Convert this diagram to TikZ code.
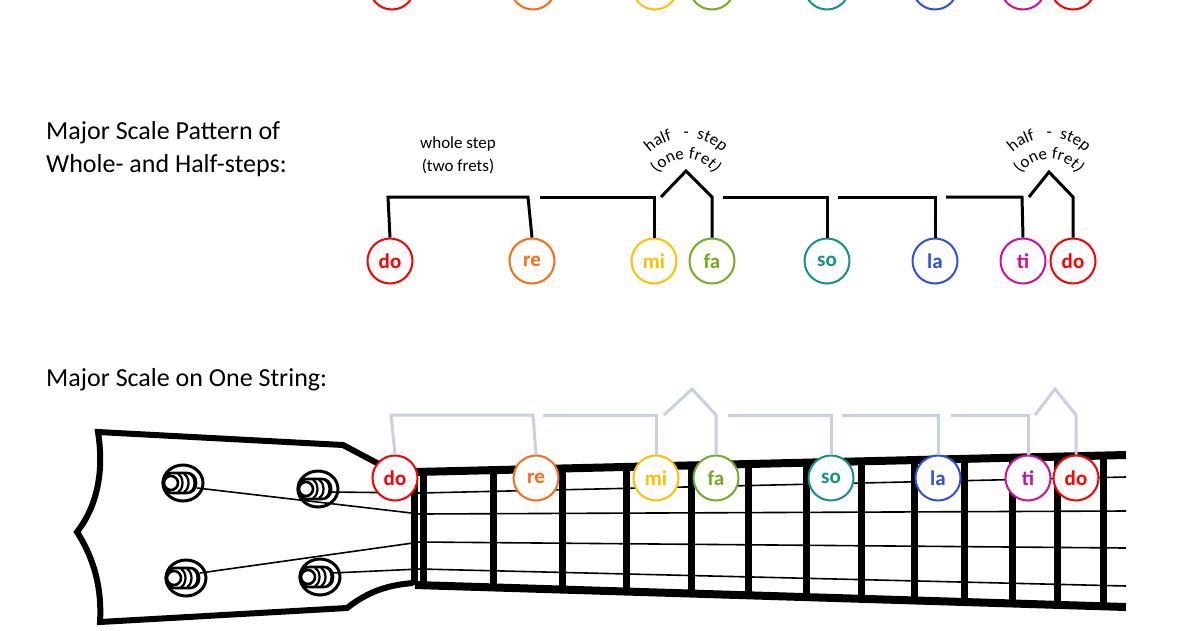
\documentclass[tikz,border=0pt]{standalone}
\usepackage{fontspec}
\setmainfont{Carlito}
\usetikzlibrary{calc,decorations.text,shapes.geometric}
\begin{document}
\begin{tikzpicture}[x=1pt,y=-1pt,
  note/.style={circle,draw=#1,text=#1,fill=white,line width=2pt,minimum size=45pt,inner sep=0pt,font=\fontsize{21}{21}\selectfont\bfseries},
  brk/.style={line width=3pt},
  lbrk/.style={line width=3pt,draw=pale},
  lbl/.style={font=\fontsize{26}{30}\selectfont,anchor=west,inner sep=0pt},
  sm/.style={font=\fontsize{17}{19}\selectfont,inner sep=0pt},
  arct/.style={decorate,decoration={text along path,text align=center,text={|\fontsize{17}{19}\selectfont|#1}}}]
\definecolor{cdo}{HTML}{FF0000}\definecolor{cre}{HTML}{FF6A13}
\definecolor{cmi}{HTML}{FFC000}\definecolor{cfa}{HTML}{70B020}
\definecolor{cso}{HTML}{149090}\definecolor{cla}{HTML}{3050E0}
\definecolor{cti}{HTML}{D0109A}\definecolor{pale}{HTML}{C8D0E8}
\useasboundingbox (0,0) rectangle (1200,630);
% top row (cut off)
\foreach \x/\c [count=\i] in {392/cdo,533/cre,655/cmi,712/cfa,827/cso,935/cla,1023/cti,1073/cdo}
  \node[note=\c] (t\i) at (\x,-13) {};
% middle
\node[lbl] (l1) at (46,133) {Major Scale Pattern of};
\node[lbl] (l2) at (46,166) {Whole- and Half-steps:};
\foreach \x/\c/\n [count=\i] in {390/cdo/do,532/cre/re,654/cmi/mi,712/cfa/fa,827/cso/so,935/cla/la,1023/cti/ti,1073/cdo/do}
  \node[note=\c] (m\i) at (\x,261) {\n};
\draw[brk] (m1.north) -- (388,197) -- (528,197) -- (m2.north);
\draw[brk] (540,197) -- (654,197) -- (m3.north);
\draw[brk] (661,197) -- (686,171) -- (712,197) -- (m4.north);
\draw[brk] (723,197) -- (827,197) -- (m5.north);
\draw[brk] (838,197) -- (935,197) -- (m6.north);
\draw[brk] (946,197) -- (1022,197) -- (m7.north);
\draw[brk] (1029,197) -- (1049,172) -- (1073,197) -- (m8.north);
\node[sm] (w1) at (458,144) {whole step};
\node[sm] (w2) at (458,166) {(two frets)};
\begin{scope}[y=1pt]
\foreach \cx in {686,1049}{
  \path[arct={half {\ }{\ }-{\ }{\ }step}] ($(\cx,-190)+(160:52pt)$) arc[start angle=160,end angle=20,radius=52pt];
  \path[arct={(one fret)}] ($(\cx,-193)+(165:34pt)$) arc[start angle=165,end angle=15,radius=34pt];
}
\end{scope}
% bottom
\node[lbl] (l3) at (46,380) {Major Scale on One String:};
% headstock
\draw[line width=6pt,line join=miter] (413,472) -- (377,463) -- (343,445) -- (98,432)
  .. controls (104,470) and (98,505) .. (77,532)
  .. controls (95,560) and (102,590) .. (100,622) -- (347,608)
  .. controls (370,590) and (390,585) .. (413,583);
% fretboard
\coordinate (TL) at (415,472); \coordinate (TR) at (1126,455);
\coordinate (BL) at (415,585); \coordinate (BR) at (1126,607);
\draw[line width=8pt] (TL) -- (TR); \draw[line width=8pt] (BL) -- (BR);
\foreach \x in {414,424,494,563,627,691,748,806,862,914,965,1012,1057,1103}{
  \pgfmathsetmacro\t{(\x-415)/711}
  \draw[line width=7pt] ($(TL)!\t!(TR)$) -- ($(BL)!\t!(BR)$);
}
% pegs
\foreach \px/\py [count=\k] in {183/483,318/489,186/578,320/577}{
  \node[ellipse,draw,line width=3pt,minimum width=40pt,minimum height=36pt,inner sep=0pt] (p\k) at (\px,\py) {};
  \draw[line width=2.6pt,rounded corners=9pt] (\px-20,\py-10) rectangle (\px+13,\py+10);
  \draw[line width=2.6pt,fill=white] (\px-12,\py) circle (7pt);
  \foreach \d in {-2,4,10}
    \draw[line width=2.2pt] (\px+\d-3,\py-9) .. controls (\px+\d+3,\py-6) and (\px+\d+3,\py+6) .. (\px+\d-3,\py+9);
}
\draw[line width=1.6pt] (p2.center) ++(12,3) -- (420,493) -- (1126,477);
\draw[line width=1.6pt] (p1.center) ++(14,5) -- (420,514) -- (1126,511);
\draw[line width=1.6pt] (p3.center) ++(14,-5) -- (420,542) -- (1126,548);
\draw[line width=1.6pt] (p4.center) ++(12,-4) -- (420,569) -- (1126,586);
\foreach \x/\c/\n [count=\i] in {395/cdo/do,536/cre/re,656/cmi/mi,716/cfa/fa,831/cso/so,938/cla/la,1028/cti/ti,1076/cdo/do}
  \node[note=\c] (b\i) at (\x,478) {\n};
\draw[lbrk] (b1.north) -- (391,415) -- (533,415) -- (b2.north);
\draw[lbrk] (543,415) -- (656,415) -- (b3.north);
\draw[lbrk] (664,415) -- (692,389) -- (716,415) -- (b4.north);
\draw[lbrk] (728,415) -- (831,415) -- (b5.north);
\draw[lbrk] (842,415) -- (938,415) -- (b6.north);
\draw[lbrk] (951,415) -- (1028,415) -- (b7.north);
\draw[lbrk] (1035,415) -- (1055,389) -- (1076,415) -- (b8.north);
\end{tikzpicture}
\end{document}
